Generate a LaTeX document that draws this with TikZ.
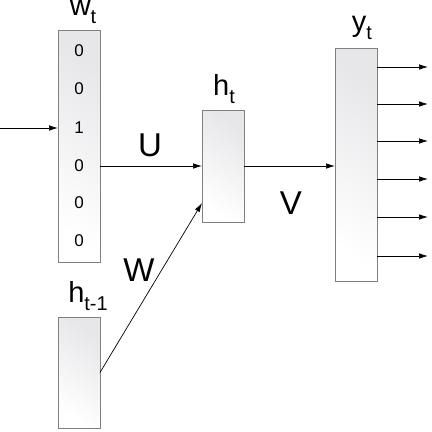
\documentclass[tikz,border=0pt]{standalone}
\usepackage{fontspec}
\setmainfont{Liberation Sans}
\usetikzlibrary{arrows.meta,calc}
\newcommand{\lbl}[2]{{\fontsize{29}{31}\selectfont #1\raisebox{-0.25em}{\fontsize{20}{22}\selectfont #2}}}
\tikzset{
  box/.style={draw=black!50, line width=0.8pt, inner sep=0pt, outer sep=0pt, minimum width=42pt,
    shading=axis, top color=blue!6!gray!18, bottom color=white, shading angle=-35},
  arr/.style={-{Latex[length=9pt,width=5.5pt]}, line width=0.7pt, black},
  num/.style={font=\fontsize{17}{19}\selectfont, inner sep=0pt},
  big/.style={font=\fontsize{33}{35}\selectfont, inner sep=0pt},
  lab/.style={inner sep=0pt}
}
\begin{document}
\begin{tikzpicture}[x=1pt,y=-1pt]
\useasboundingbox (0,0) rectangle (432,432);
\node[box, minimum height=232pt] (wt) at (79,146) {};
\node[box, minimum height=112pt] (ht) at (223,166) {};
\node[box, minimum height=111pt] (hp) at (79,372.5) {};
\node[box, minimum height=233pt] (yt) at (356,164.5) {};
\foreach \v/\y [count=\i] in {0/51,0/89,1/128,0/166,0/203,0/241}
  \node[num] (n\i) at (79,\y) {\v};
\node[lab] (lwt) at (83,12) {\lbl{w}{t}};
\node[lab] (lht) at (224,89) {\lbl{h}{t}};
\node[lab] (lyt) at (362,28) {\lbl{y}{t}};
\node[lab] (lhp) at (88,296) {\lbl{h}{t-1}};
\node[big] (U) at (150,145) {U};
\node[big] (V) at (291,203) {V};
\node[big] (W) at (139,270) {W};
\coordinate (in) at (0,128);
\draw[arr] (in) -- (in -| wt.west);
\draw[arr] (wt.east |- ht.west) -- (ht.west);
\draw[arr] (hp.east) -- ($(ht.west)+(0,37)$);
\draw[arr] (ht.east) -- (yt.west |- ht.east);
\foreach \y [count=\i] in {67,104,141,179,217,256} {
  \coordinate (out\i) at (428,\y);
  \draw[arr] (yt.east |- out\i) -- (out\i);
}
\end{tikzpicture}
\end{document}
